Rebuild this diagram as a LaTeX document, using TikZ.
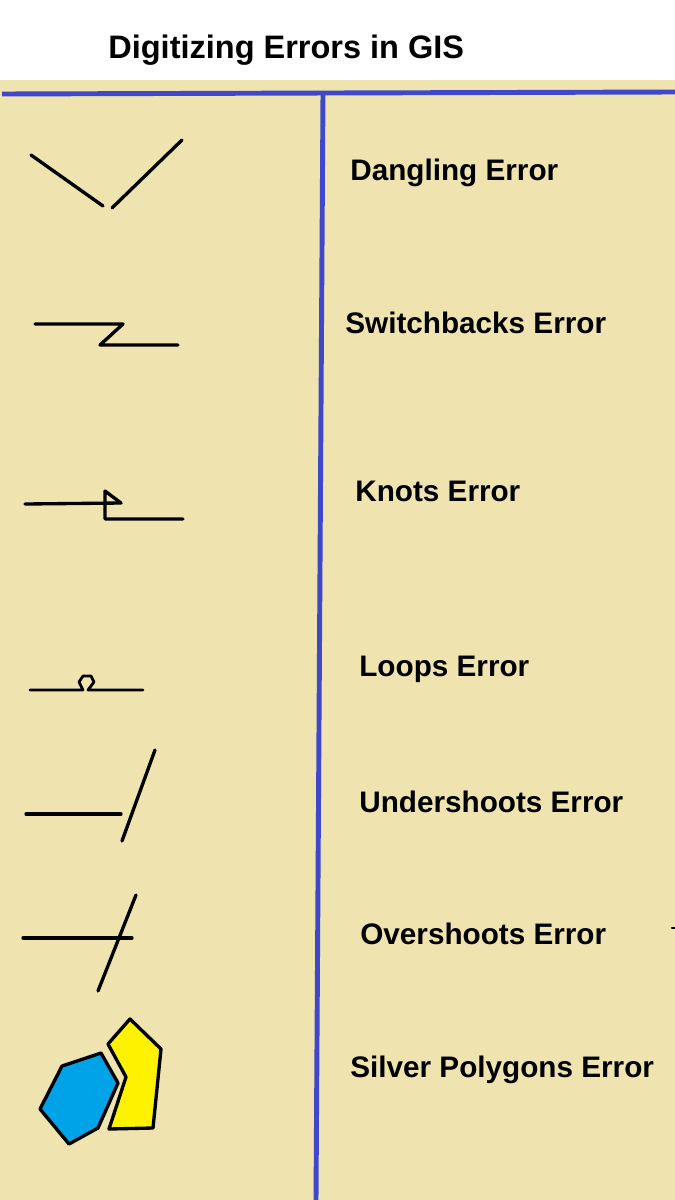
\documentclass[tikz,border=0pt]{standalone}
\usepackage{fontspec}
\setmainfont{Liberation Sans}
\usetikzlibrary{positioning}
\tikzset{sketch/.style = {line width = 1.9pt, line cap = round, line join = round}}
\tikzset{rule/.style = {line width = 2.8pt, mrule}}
\tikzset{errname/.style = {anchor = base west, inner sep = 0, font = \fontsize{16.9}{20}\selectfont\bfseries}}
\definecolor{mpaper}{RGB}{239, 228, 176}
\definecolor{mrule}{RGB}{63, 72, 204}
\definecolor{mcyan}{RGB}{0, 162, 232}
\definecolor{myellow}{RGB}{255, 242, 0}

\begin{document}
\begin{tikzpicture}[x = 0.02cm, y = -0.02cm]
      \useasboundingbox (0, 0) rectangle (675, 1200);
      \fill [white] (0, 0) rectangle (675, 80);
      \fill [mpaper] (0, 80) rectangle (675, 1200);

      \node [anchor = base west, inner sep = 0, font = \fontsize{18.5}{22}\selectfont\bfseries] (title) at (108, 58) {Digitizing Errors in GIS};

      \draw [rule] (2, 94) -- (330, 93) -- (675, 92);
      \draw [rule] (323, 93) -- (316, 1200);

      % dangling
      \draw [sketch] (31, 155) -- (103, 206);
      \draw [sketch] (112, 208) -- (182, 140);
      \node [errname] (dangling) at (350, 180) {Dangling Error};

      % switchbacks
      \draw [sketch] (35, 324) -- (123, 324) -- (100, 345) -- (178, 345);
      \node [errname] (switchbacks) at (345, 333) {Switchbacks Error};

      % knots
      \draw [sketch] (25, 504) -- (121, 503) -- (105, 491) -- (105, 519) -- (183, 519);
      \node [errname] (knots) at (355, 501) {Knots Error};

      % loops
      \draw [sketch, line width = 1.6pt] (30, 690) -- (83, 690) -- (79, 682) -- (83, 676) -- (91, 676) -- (94, 682) -- (88, 690) -- (143, 690);
      \node [errname] (loops) at (359, 676) {Loops Error};

      % undershoots
      \draw [sketch] (26, 814) -- (121, 814);
      \draw [sketch] (155, 750) -- (122, 841);
      \node [errname] (undershoots) at (359, 812) {Undershoots Error};

      % overshoots
      \draw [sketch] (23, 938) -- (132, 938);
      \draw [sketch] (136, 895) -- (98, 991);
      \node [errname] (overshoots) at (360, 944) {Overshoots Error};
      \draw [sketch, line width = 1.2pt] (672, 928) -- (675, 928);

      % silver polygons
      \draw [sketch, fill = mcyan] (40, 1109) -- (62, 1066) -- (101, 1053) -- (118, 1083) -- (98, 1128) -- (69, 1144) -- cycle;
      \draw [sketch, fill = myellow] (108, 1044) -- (130, 1019) -- (161, 1049) -- (153, 1128) -- (109, 1129) -- (126, 1077) -- cycle;
      \node [errname] (silver) at (350, 1077) {Silver Polygons Error};
    \end{tikzpicture}
\end{document}
